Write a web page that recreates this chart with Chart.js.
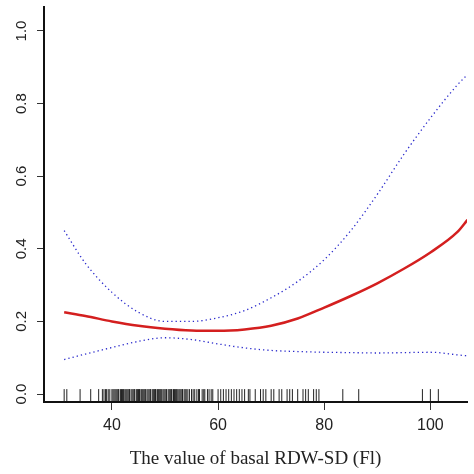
<!DOCTYPE html>
<html><head><meta charset="utf-8">
<script src="https://cdn.jsdelivr.net/npm/chart.js@4"></script>
<style>html,body{margin:0;padding:0;background:#fff}#w{width:474px;height:474px}</style>
</head><body><div id="w"><canvas id="c"></canvas></div>
<script>
const xs = [31,35,40,45,50,55,60,65,70,75,80,85,90,95,100,105,107];
const fitValues = [.225,.215,.2,.188,.18,.175,.174,.178,.188,.208,.238,.27,.305,.345,.39,.445,.48];
const upperValues = [.45,.36,.28,.225,.2,.2,.21,.23,.265,.31,.37,.45,.55,.66,.76,.85,.88];
const lowerValues = [.095,.11,.128,.145,.155,.15,.138,.127,.12,.117,.115,.114,.113,.114,.115,.108,.105];
const rugValues = [31,31.5,34,36,37.5,38.2,38.5,38.8,39,39.3,39.6,40,40.2,40.4,40.6,40.8,41,41.2,41.3,41.6,41.8,42,42.2,42.3,42.6,42.8,43,43.2,43.3,43.6,43.8,44,44.2,44.3,44.6,44.8,45,45.2,45.3,45.6,45.8,46,46.2,46.3,46.6,46.8,47,47.2,47.3,47.6,47.8,48,48.2,48.3,48.6,48.8,49,49.2,49.3,49.6,49.8,50,50.2,50.3,50.6,50.8,51,51.2,51.3,51.6,51.8,52,52.2,52.3,52.6,52.8,53,53.2,53.3,53.6,53.8,54,54.3,54.6,55,55.3,55.6,56,56.3,56.5,57,57.3,57.5,58,58.3,58.7,59,60,60.5,61,61.5,62,62.5,63,63.5,64,64.5,65,65.7,66,67,68,68.5,69,70,70.5,71.5,72,73,73.5,74,75,76,76.5,77,78,78.5,79,83.5,86.5,98.5,100,101.5];
const xTicks = [40,60,80,100];
const yTicks = [0,0.2,0.4,0.6,0.8,1.0];
const pts = v => xs.map((x,i)=>({x, y:v[i]}));
const yLabels = {id:'yl', afterDraw(ch){
  const ctx=ch.ctx, s=ch.scales.y;
  ctx.save(); ctx.fillStyle='#222'; ctx.font='15px "Liberation Sans", Arial';
  ctx.textAlign='center'; ctx.textBaseline='middle';
  yTicks.forEach(t=>{const p=s.getPixelForValue(t); ctx.save(); ctx.translate(22,p); ctx.rotate(-Math.PI/2); ctx.fillText(t.toFixed(1),0,0); ctx.restore();});
  ctx.restore();
}};
new Chart(document.getElementById('c'),{
  type:'scatter',
  data:{datasets:[
    {data:pts(upperValues), showLine:true, borderColor:'#2a2acc', borderWidth:1.3, borderDash:[1.3,3], pointRadius:0, cubicInterpolationMode:'monotone'},
    {data:pts(lowerValues), showLine:true, borderColor:'#2a2acc', borderWidth:1.3, borderDash:[1.3,3], pointRadius:0, cubicInterpolationMode:'monotone'},
    {data:pts(fitValues), showLine:true, borderColor:'#d41f1f', borderWidth:2.5, pointRadius:0, cubicInterpolationMode:'monotone'},
    {data:rugValues.map(x=>({x,y:-0.003})), showLine:false, pointStyle:'line', rotation:90, radius:6, borderColor:'#222', borderWidth:1, pointHoverRadius:6}
  ]},
  options:{
    responsive:true, maintainAspectRatio:false, animation:false,
    layout:{padding:{top:2,right:-8,left:0,bottom:0}},
    plugins:{legend:{display:false}, tooltip:{enabled:false}},
    scales:{
      x:{type:'linear', min:27.2, max:106.9,
        afterBuildTicks:s=>{s.ticks=xTicks.map(v=>({value:v}));},
        afterFit:s=>{s.height=72;},
        grid:{display:true, drawOnChartArea:false, drawTicks:true, tickLength:8, color:'#333'},
        border:{display:true, color:'#111', width:2},
        ticks:{color:'#222', font:{size:16, family:'"Liberation Sans", Arial'}, padding:6, maxRotation:0},
        title:{display:true, text:'The value of basal RDW-SD (Fl)', color:'#222', font:{size:19, family:'"Liberation Serif", "Times New Roman"'}, padding:{top:4}}
      },
      y:{type:'linear', min:-0.022, max:1.066,
        afterBuildTicks:s=>{s.ticks=yTicks.map(v=>({value:v}));},
        afterFit:s=>{s.width=44;},
        grid:{display:true, drawOnChartArea:false, drawTicks:true, tickLength:7, color:'#333'},
        border:{display:true, color:'#111', width:2},
        ticks:{display:false}
      }
    }
  },
  plugins:[yLabels]
});
</script></body></html>
